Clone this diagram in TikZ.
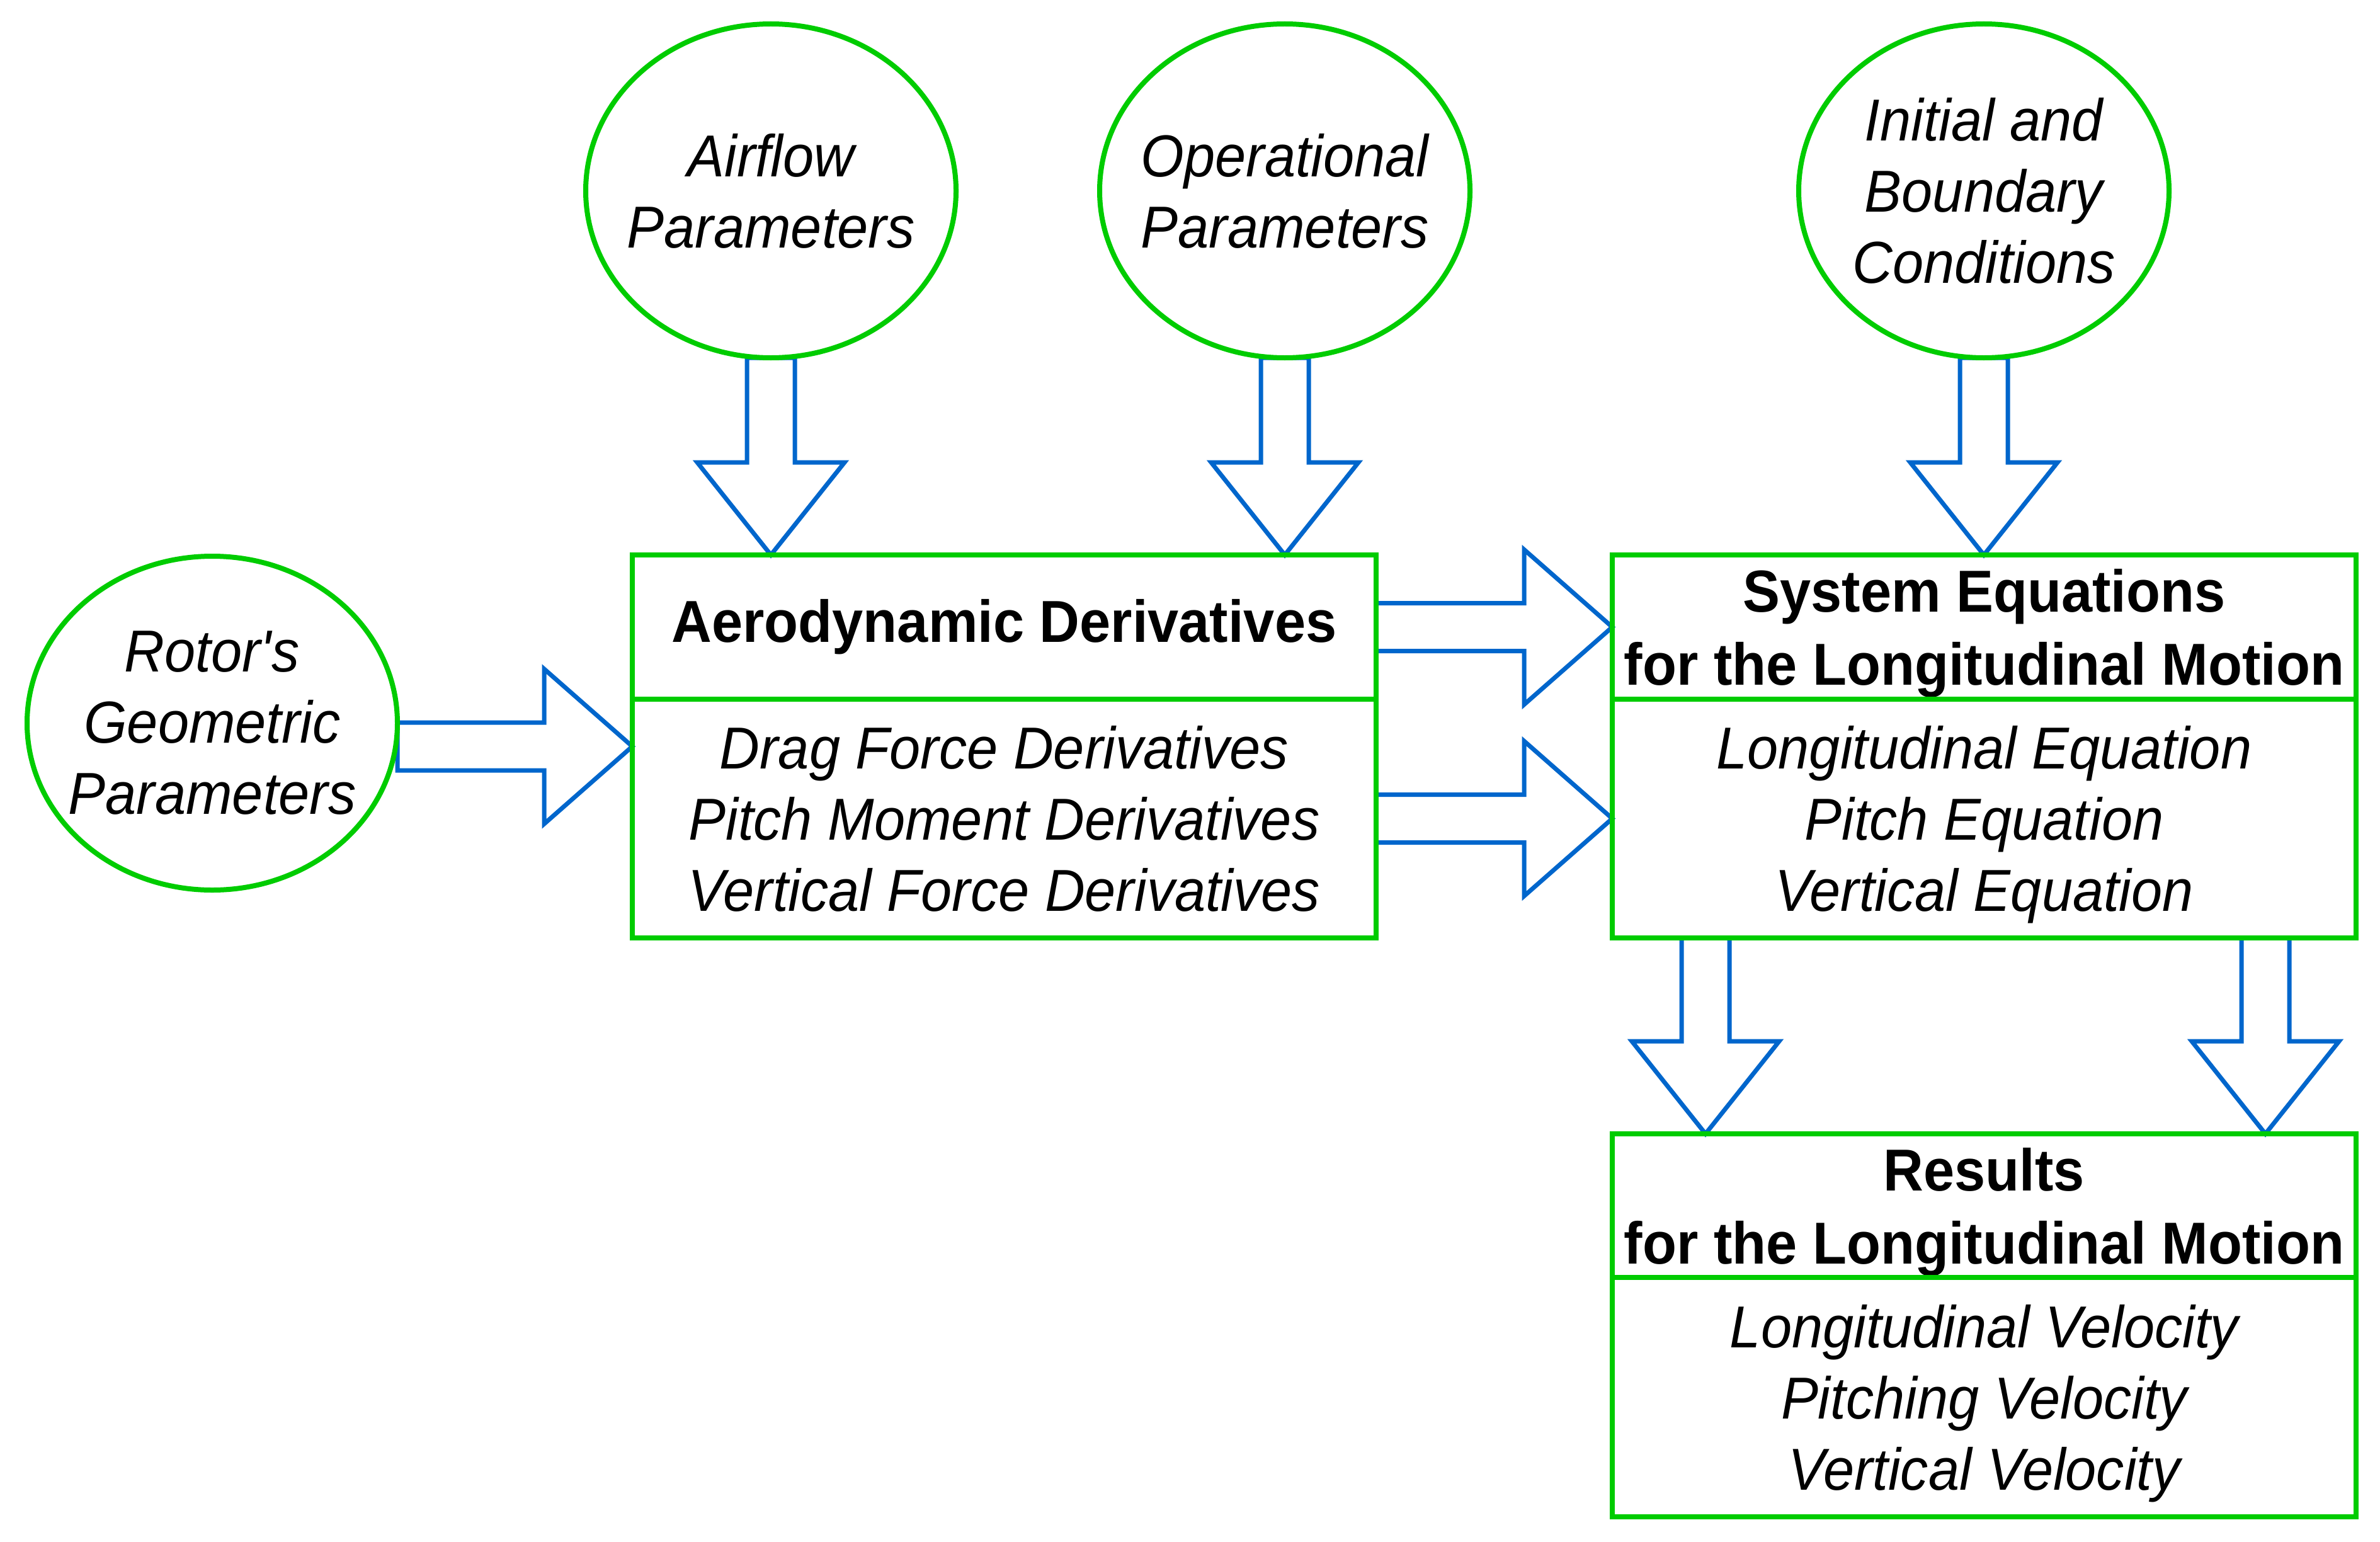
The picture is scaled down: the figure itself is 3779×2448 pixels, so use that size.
\documentclass[tikz,border=0pt]{standalone}
\usepackage{fontspec}
\setmainfont{Liberation Sans}[FakeStretch=0.94]
\usetikzlibrary{calc,fit,shapes.geometric,backgrounds}
\definecolor{boxgreen}{RGB}{0,204,0}
\definecolor{arrblue}{RGB}{0,102,204}
\newcommand\blkdown[2]{\draw[blkarrow] let \p1=(#1), \p2=(#2) in
  (\x2-38pt,\y1) -- (\x2-38pt,\y2+147pt) -- (\x2-117pt,\y2+147pt) -- (\x2,\y2)
  -- (\x2+117pt,\y2+147pt) -- (\x2+38pt,\y2+147pt) -- (\x2+38pt,\y1) -- cycle;}
\newcommand\blkright[2]{\draw[blkarrow] let \p1=(#1), \p2=(#2) in
  (\x1,\y2+38pt) -- (\x2-140pt,\y2+38pt) -- (\x2-140pt,\y2+123pt) -- (\x2,\y2)
  -- (\x2-140pt,\y2-123pt) -- (\x2-140pt,\y2-38pt) -- (\x1,\y2-38pt) -- cycle;}
\begin{document}
\begin{tikzpicture}[x=1pt,y=-1pt,
  ell/.style={draw=boxgreen, line width=8pt, ellipse, minimum width=588pt,
    minimum height=530pt, inner sep=0pt, outer sep=0pt},
  itx/.style={font=\fontsize{94}{113}\selectfont\itshape, align=center, inner sep=0pt},
  bftx/.style={font=\fontsize{94}{116}\selectfont\bfseries, align=center},
  sec/.style={draw=boxgreen, line width=8pt, minimum width=1181pt, inner sep=0pt,
    outer sep=0pt},
  blkarrow/.style={draw=arrblue, line width=7pt, line join=miter, miter limit=10}]
\useasboundingbox (0,0) rectangle (3779,2448);

% input ellipses
\node[ell] (air) at (1224,303) {};
\node[itx] (airT) at (air) {Airflow\\Parameters};
\node[ell] (op) at (2040,303) {};
\node[itx] (opT) at (op) {Operational\\Parameters};
\node[ell] (init) at (3150,303) {};
\node[itx] (initT) at (init) {Initial and\\Boundary\\Conditions};
\node[ell] (rotor) at (337,1148) {};
\node[itx] (rotorT) at (rotor) {Rotor\textquotesingle s\\Geometric\\Parameters};

% aerodynamic derivatives box
\node[sec, bftx, minimum height=229pt] (aerotop) at (1594.5,995.5) {Aerodynamic Derivatives};
\node[sec, itx, minimum height=379pt, anchor=north] (aerobot) at (aerotop.south)
  {Drag Force Derivatives\\Pitch Moment Derivatives\\\smash{Vertical Force Derivatives}};
\node[fit=(aerotop)(aerobot), inner sep=0pt, outer sep=0pt] (aero) {};

% system equations box
\node[sec, bftx, minimum height=229pt] (systop) at (3150.5,995.5)
  {System Equations\\\smash{for the Longitudinal Motion}};
\node[sec, itx, minimum height=379pt, anchor=north] (sysbot) at (systop.south)
  {Longitudinal Equation\\Pitch Equation\\\smash{Vertical Equation}};
\node[fit=(systop)(sysbot), inner sep=0pt, outer sep=0pt] (sys) {};

% results box
\node[sec, bftx, minimum height=228pt] (restop) at (3150.5,1914)
  {Results\\\smash{for the Longitudinal Motion}};
\node[sec, itx, minimum height=380pt, anchor=north] (resbot) at (restop.south)
  {Longitudinal Velocity\\Pitching Velocity\\\smash{Vertical Velocity}};
\node[fit=(restop)(resbot), inner sep=0pt, outer sep=0pt] (res) {};

\coordinate (s1) at ($(sys.south west)+(148,0)$);
\coordinate (s2) at ($(sys.south east)+(-144,0)$);

\begin{scope}[on background layer]
  \fill[white] (0,0) rectangle (3779,2448);
  \blkdown{air.south}{air.south |- aero.north}
  \blkdown{op.south}{op.south |- aero.north}
  \blkdown{init.south}{init.south |- sys.north}
  \blkright{rotor.east}{aero.west}
  \blkright{aerotop.east}{systop.west}
  \blkright{aerobot.east}{sysbot.west}
  \blkdown{s1}{s1 |- res.north}
  \blkdown{s2}{s2 |- res.north}
\end{scope}
\end{tikzpicture}
\end{document}
